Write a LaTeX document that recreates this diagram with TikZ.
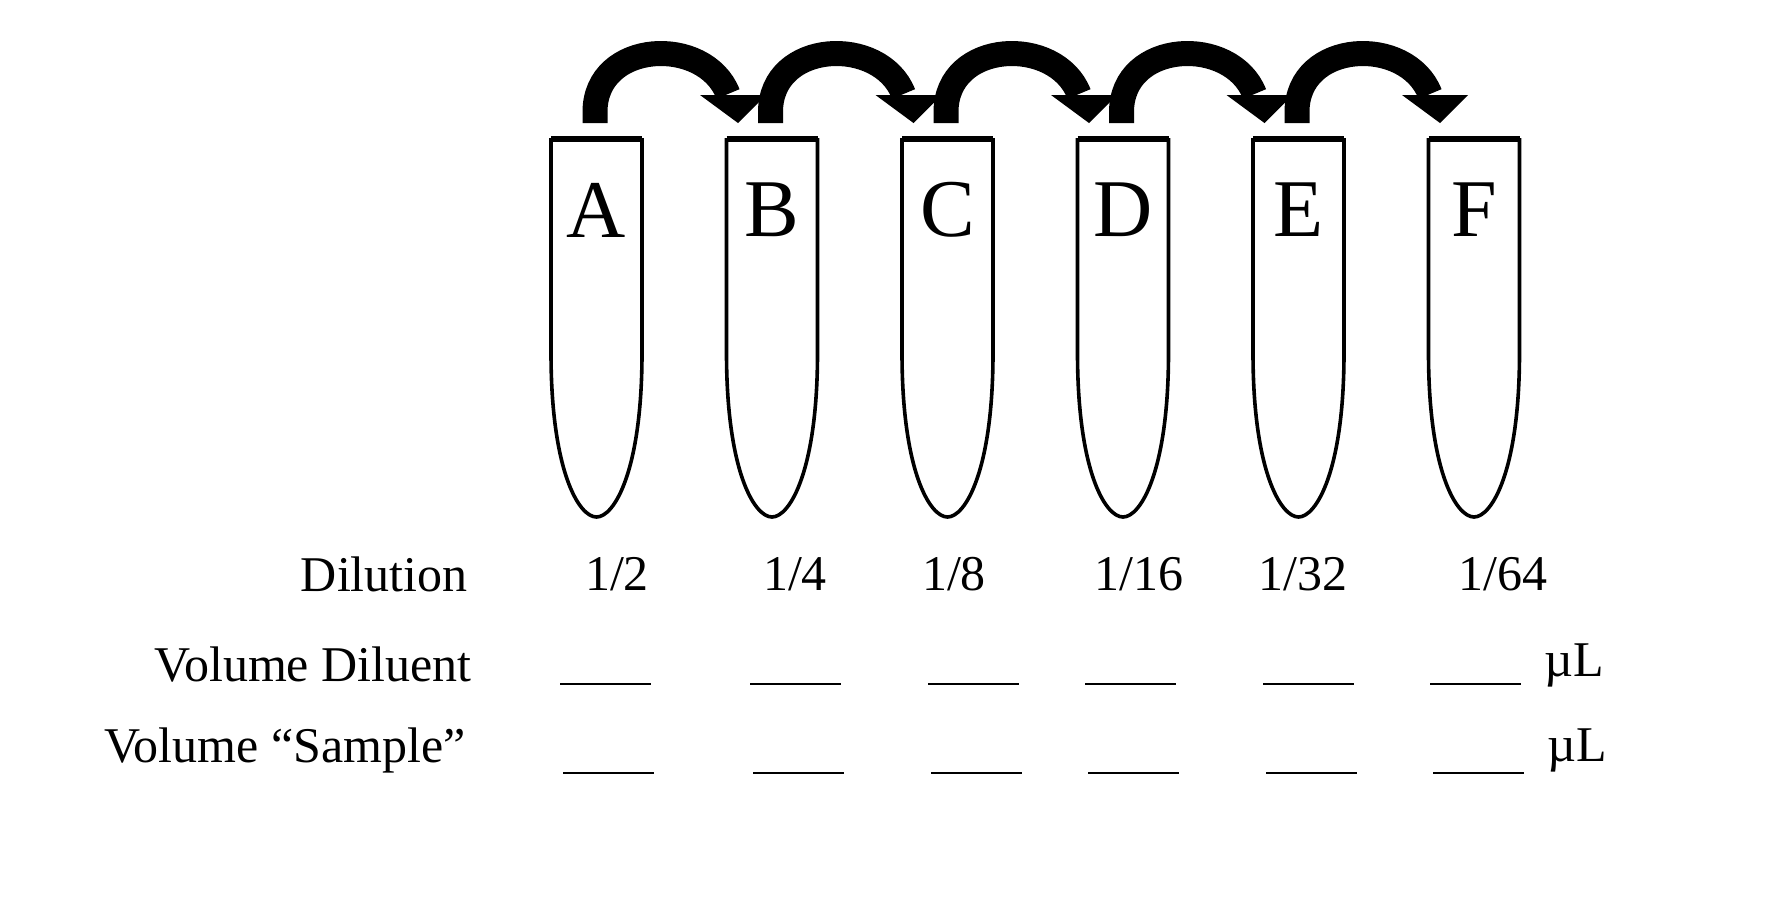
\documentclass[tikz,border=0pt]{standalone}
\usepackage{fontspec}
\setmainfont{Liberation Serif}
\begin{document}
\begin{tikzpicture}[x=0.5pt,y=-0.5pt,
  tubeline/.style={line width=1.8pt,black},
  arr/.style={line width=12.5pt,black},
  lbl/.style={font=\fontsize{25}{30}\selectfont,inner sep=0pt},
  tl/.style={font=\fontsize{41}{48}\selectfont,inner sep=0pt},
  blank/.style={line width=1pt}]
\useasboundingbox (0,0) rectangle (1774,902);
\foreach \L [count=\i from 0] in {A,B,C,D,E,F}{
  \pgfmathsetmacro{\xo}{551+175.5*\i}
  \pgfmathsetmacro{\xc}{\xo+45.5}
  \pgfmathsetmacro{\xe}{\xo+91}
  \draw[line width=2.6pt] (\xo,139) -- (\xe,139);
  \draw[tubeline] (\xo,138) -- (\xo,353) .. controls (\xo,470) and (\xc-18,517) .. (\xc,517) .. controls (\xc+18,517) and (\xe,470) .. (\xe,353) -- (\xe,138);
  \node[tl] (t\L) at (\xc,210) {\L};
}
\foreach \i in {0,...,4}{
  \pgfmathsetmacro{\sx}{175.5*\i}
  \begin{scope}[xshift=\sx*0.5pt]
  \draw[arr] (595,123) -- (595,112) .. controls (595,40) and (705,35) .. (728,94);
  \fill (700,95) -- (738,123) -- (766,95) -- cycle;
  \end{scope}
}
\node[lbl,anchor=east] (dil) at (468,574) {Dilution};
\node[lbl,anchor=east] (vd) at (472,665) {Volume Diluent};
\node[lbl,anchor=east] (vs) at (466,750) {Volume “Sample”};
\node[lbl] (d1) at (617,574) {1/2};
\node[lbl] (d2) at (795,574) {1/4};
\node[lbl] (d3) at (954,574) {1/8};
\node[lbl] (d4) at (1139,574) {1/16};
\node[lbl] (d5) at (1303,574) {1/32};
\node[lbl] (d6) at (1503,574) {1/64};
\foreach \x in {560,750,928,1085,1263,1430}{
  \draw[blank] (\x,684) -- (\x+91,684);
  \draw[blank] (\x+3,773) -- (\x+94,773);
}
\node[lbl,anchor=west] (u1) at (1544,665) {µL};
\node[lbl,anchor=west] (u2) at (1547,750) {µL};
\end{tikzpicture}
\end{document}
